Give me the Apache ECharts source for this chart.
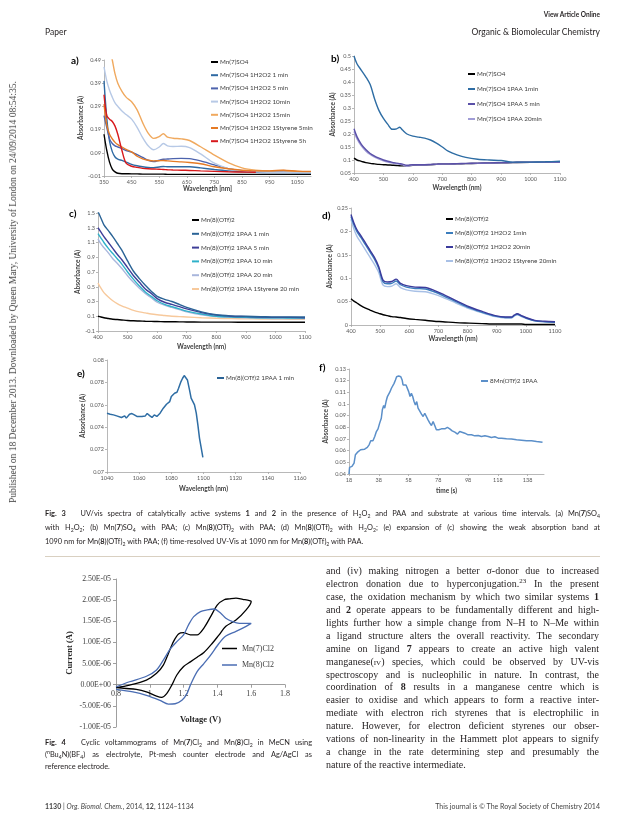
<!DOCTYPE html>
<html>
<head>
<meta charset="utf-8">
<script src="https://cdn.jsdelivr.net/npm/echarts@6/dist/echarts.min.js"></script>
<style>
  html, body { margin: 0; padding: 0; background: #fff; }
  #page { position: relative; width: 638px; height: 835px; overflow: hidden; background: #fff; }
  #chart { position: absolute; left: 0; top: 0; width: 638px; height: 835px; }
  .t { position: absolute; color: #231f20; }
  .sans { font-family: Lato, "Open Sans", sans-serif; }
  .serif { font-family: "Liberation Serif", "DejaVu Serif", serif; }
  .jl { text-align: justify; text-align-last: justify; }
  sub, sup { font-size: 70%; line-height: 0; }
</style>
</head>
<body>
<div id="page">
  <div id="chart"></div>

  <div class="t sans" style="right:38px; top:11px; font-size:6.5px; font-weight:700;">View Article Online</div>
  <div class="t sans" style="left:45px; top:27px; font-size:8.5px;">Paper</div>
  <div class="t sans" style="right:38px; top:27px; font-size:8.5px;">Organic &amp; Biomolecular Chemistry</div>

  <div class="t serif" style="left:13px; top:292px; font-size:9.5px; font-weight:400; color:#444; white-space:nowrap; transform:translate(-50%,-50%) rotate(-90deg);">Published on 18 December 2013. Downloaded by Queen Mary, University of London on 24/09/2014 08:54:35.</div>

  <div class="t sans" style="left:45px; top:507px; width:555px; font-size:7.4px; line-height:13.8px;">
    <div class="jl"><b>Fig. 3</b>&nbsp;&nbsp; UV/vis spectra of catalytically active systems <b>1</b> and <b>2</b> in the presence of H<sub>2</sub>O<sub>2</sub> and PAA and substrate at various time intervals. (a) Mn(<b>7</b>)SO<sub>4</sub></div>
    <div class="jl">with H<sub>2</sub>O<sub>2</sub>; (b) Mn(<b>7</b>)SO<sub>4</sub> with PAA; (c) Mn(<b>8</b>)(OTf)<sub>2</sub> with PAA; (d) Mn(<b>8</b>)(OTf)<sub>2</sub> with H<sub>2</sub>O<sub>2</sub>; (e) expansion of (c) showing the weak absorption band at</div>
    <div>1090 nm for Mn(<b>8</b>)(OTf)<sub>2</sub> with PAA; (f) time-resolved UV-Vis at 1090 nm for Mn(<b>8</b>)(OTf)<sub>2</sub> with PAA.</div>
  </div>
  <div style="position:absolute; left:45px; top:556px; width:555px; height:1px; background:#d9d0c1;"></div>

  <div class="t sans" style="left:45px; top:737px; width:267px; font-size:7.4px; line-height:11.8px;">
    <div class="jl"><b>Fig. 4</b>&nbsp;&nbsp; Cyclic voltammograms of Mn(<b>7</b>)Cl<sub>2</sub> and Mn(<b>8</b>)Cl<sub>2</sub> in MeCN using</div>
    <div class="jl">(<sup>n</sup>Bu<sub>4</sub>N)(BF<sub>4</sub>) as electrolyte, Pt-mesh counter electrode and Ag/AgCl as</div>
    <div>reference electrode.</div>
  </div>

  <div class="t serif" style="left:326px; top:565px; width:273px; font-size:10px; line-height:12.93px;">
    <div class="jl">and (iv) making nitrogen a better σ-donor due to increased</div>
    <div class="jl">electron donation due to hyperconjugation.<sup>23</sup> In the present</div>
    <div class="jl">case, the oxidation mechanism by which two similar systems <b>1</b></div>
    <div class="jl">and <b>2</b> operate appears to be fundamentally different and high-</div>
    <div class="jl">lights further how a simple change from N–H to N–Me within</div>
    <div class="jl">a ligand structure alters the overall reactivity. The secondary</div>
    <div class="jl">amine on ligand <b>7</b> appears to create an active high valent</div>
    <div class="jl">manganese(<span style="font-variant:small-caps">iv</span>) species, which could be observed by UV-vis</div>
    <div class="jl">spectroscopy and is nucleophilic in nature. In contrast, the</div>
    <div class="jl">coordination of <b>8</b> results in a manganese centre which is</div>
    <div class="jl">easier to oxidise and which appears to form a reactive inter-</div>
    <div class="jl">mediate with electron rich styrenes that is electrophilic in</div>
    <div class="jl">nature. However, for electron deficient styrenes our obser-</div>
    <div class="jl">vations of non-linearity in the Hammett plot appears to signify</div>
    <div class="jl">a change in the rate determining step and presumably the</div>
    <div>nature of the reactive intermediate.</div>
  </div>

  <div class="t sans" style="left:45px; top:802px; font-size:7px; color:#444;"><b>1130</b> | <i>Org. Biomol. Chem.</i>, 2014, <b>12</b>, 1124–1134</div>
  <div class="t sans" style="right:38px; top:802px; font-size:7px; color:#444;">This journal is © The Royal Society of Chemistry 2014</div>
</div>

<script>
// ---------------- Panel a: Mn(7)SO4 + H2O2 ----------------
const aNm = [350, 360, 370, 380, 390, 400, 415, 430, 450, 470, 490, 510, 530, 550, 565, 580, 600, 630, 660, 700, 750, 800, 850, 900, 950, 1000, 1050, 1100];
const aNames = ['Mn(7)SO4', 'Mn(7)SO4 1H2O2 1 min', 'Mn(7)SO4 1H2O2 5 min', 'Mn(7)SO4 1H2O2 10min', 'Mn(7)SO4 1H2O2 15min', 'Mn(7)SO4 1H2O2 1Styrene 5min', 'Mn(7)SO4 1H2O2 1Styrene 5h'];
const aBlack = [0.17, 0.10, 0.05, 0.02, 0.008, 0.002, 0.0, 0.0, -0.001, -0.001, -0.002, -0.002, -0.002, -0.002, -0.002, -0.003, -0.003, -0.003, -0.003, -0.003, -0.003, -0.003, -0.003, -0.003, -0.003, -0.003, -0.003, -0.003];
const a1min = [0.40, 0.24, 0.14, 0.095, 0.072, 0.063, 0.057, 0.05, 0.04, 0.034, 0.03, 0.027, 0.026, 0.029, 0.031, 0.03, 0.03, 0.03, 0.03, 0.025, 0.018, 0.012, 0.008, 0.006, 0.005, 0.005, 0.004, 0.004];
const a5min = [0.25, 0.20, 0.15, 0.13, 0.12, 0.115, 0.108, 0.10, 0.093, 0.082, 0.07, 0.058, 0.052, 0.058, 0.062, 0.063, 0.065, 0.066, 0.065, 0.055, 0.038, 0.022, 0.013, 0.009, 0.007, 0.007, 0.006, 0.006];
const a10min = [0.46, 0.40, 0.36, 0.33, 0.305, 0.29, 0.27, 0.255, 0.235, 0.20, 0.155, 0.12, 0.103, 0.115, 0.13, 0.12, 0.117, 0.118, 0.112, 0.085, 0.045, 0.022, 0.012, 0.008, 0.006, 0.006, 0.005, 0.005];
const a15min = [0.75, 0.62, 0.54, 0.49, 0.43, 0.39, 0.355, 0.33, 0.31, 0.275, 0.22, 0.175, 0.152, 0.16, 0.172, 0.158, 0.153, 0.15, 0.143, 0.116, 0.08, 0.048, 0.025, 0.015, 0.012, 0.014, 0.01, 0.009];
const aSty5min = [0.30, 0.21, 0.17, 0.15, 0.135, 0.125, 0.115, 0.105, 0.094, 0.075, 0.064, 0.058, 0.055, 0.056, 0.057, 0.055, 0.053, 0.051, 0.048, 0.043, 0.03, 0.021, 0.015, 0.012, 0.012, 0.015, 0.011, 0.01];
const aSty5h = [0.34, 0.25, 0.235, 0.225, 0.205, 0.17, 0.10, 0.045, 0.032, 0.027, 0.023, 0.021, 0.02, 0.019, 0.018, 0.017, 0.016, 0.015, 0.014, 0.012, 0.01, 0.008, 0.007, 0.006, null, null, null, null];
const aYTicks = [-0.01, 0.09, 0.19, 0.29, 0.39, 0.49];
const aXTicks = [350, 450, 550, 650, 750, 850, 950, 1050];

// ---------------- Panel b: Mn(7)SO4 + PAA ----------------
const bNm = [400, 410, 425, 440, 455, 470, 485, 500, 515, 530, 545, 555, 565, 580, 600, 620, 640, 660, 680, 700, 720, 750, 780, 820, 860, 900, 940, 1000, 1050, 1100];
const bNames = ['Mn(7)SO4', 'Mn(7)SO4 1PAA 1min', 'Mn(7)SO4 1PAA 5 min', 'Mn(7)SO4 1PAA 20min'];
const bBlack = [0.107, 0.10, 0.095, 0.09, 0.087, 0.085, 0.083, 0.082, 0.081, 0.08, 0.079, 0.078, 0.078, 0.077, 0.08, 0.081, 0.081, 0.082, 0.083, 0.084, 0.084, 0.085, 0.086, 0.087, 0.088, 0.089, 0.09, 0.091, 0.091, 0.091];
const b1min = [0.50, 0.47, 0.445, 0.42, 0.39, 0.335, 0.29, 0.26, 0.237, 0.218, 0.22, 0.226, 0.215, 0.20, 0.192, 0.188, 0.184, 0.177, 0.165, 0.15, 0.134, 0.12, 0.11, 0.103, 0.10, 0.098, 0.092, 0.092, 0.093, 0.095];
const b5min = [0.22, 0.19, 0.16, 0.14, 0.125, 0.115, 0.107, 0.10, 0.095, 0.091, 0.088, 0.086, 0.084, 0.08, 0.082, 0.082, 0.082, 0.083, 0.084, 0.085, 0.085, 0.086, 0.087, 0.088, 0.089, 0.09, 0.091, 0.092, 0.092, 0.092];
const b20min = [0.21, 0.182, 0.154, 0.135, 0.121, 0.111, 0.103, 0.097, 0.092, 0.088, 0.085, 0.083, 0.081, 0.076, 0.081, 0.081, 0.081, 0.082, 0.083, 0.084, 0.084, 0.085, 0.086, 0.087, 0.088, 0.089, 0.09, 0.091, 0.091, 0.091];
const bYTicks = [0.05, 0.1, 0.15, 0.2, 0.25, 0.3, 0.35, 0.4, 0.45, 0.5];
const bXTicks = [400, 500, 600, 700, 800, 900, 1000, 1100];

// ---------------- Panel c: Mn(8)(OTf)2 + PAA ----------------
const cNm = [400, 410, 420, 435, 450, 465, 480, 500, 520, 540, 560, 580, 600, 625, 650, 675, 700, 750, 800, 850, 900, 950, 1000, 1050, 1100];
const cNames = ['Mn(8)(OTf)2', 'Mn(8)(OTf)2 1PAA 1 min', 'Mn(8)(OTf)2 1PAA 5 min', 'Mn(8)(OTf)2 1PAA 10 min', 'Mn(8)(OTf)2 1PAA 20 min', 'Mn(8)(OTf)2 1PAA 1Styrene 20 min'];
const cBlack = [0.10, 0.09, 0.08, 0.07, 0.06, 0.055, 0.05, 0.043, 0.038, 0.035, 0.032, 0.03, 0.028, 0.026, 0.025, 0.024, 0.023, 0.021, 0.02, 0.02, 0.019, 0.019, 0.018, 0.018, 0.018];
const c1min = [1.52, 1.43, 1.34, 1.26, 1.18, 1.09, 1.0, 0.85, 0.71, 0.61, 0.52, 0.44, 0.37, 0.33, 0.30, 0.26, 0.22, 0.16, 0.12, 0.105, 0.10, 0.095, 0.09, 0.09, 0.09];
const c5min = [1.30, 1.24, 1.18, 1.10, 1.02, 0.94, 0.87, 0.76, 0.65, 0.56, 0.47, 0.41, 0.34, 0.29, 0.26, 0.23, 0.20, 0.15, 0.115, 0.10, 0.095, 0.09, 0.085, 0.085, 0.08];
const c10min = [1.22, 1.16, 1.10, 1.02, 0.95, 0.88, 0.81, 0.70, 0.60, 0.51, 0.43, 0.37, 0.31, 0.26, 0.23, 0.20, 0.17, 0.13, 0.10, 0.09, 0.085, 0.08, 0.08, 0.075, 0.075];
const c20min = [1.15, 1.08, 1.03, 0.96, 0.88, 0.82, 0.75, 0.65, 0.56, 0.48, 0.41, 0.35, 0.29, 0.25, 0.22, 0.19, 0.16, 0.12, 0.095, 0.085, 0.08, 0.075, 0.07, 0.07, 0.07];
const cSty = [0.55, 0.48, 0.42, 0.36, 0.31, 0.27, 0.24, 0.21, 0.18, 0.16, 0.145, 0.13, 0.12, 0.11, 0.10, 0.095, 0.09, 0.08, 0.072, 0.068, 0.065, 0.063, 0.062, 0.06, 0.06];
const cYTicks = [-0.1, 0.1, 0.3, 0.5, 0.7, 0.9, 1.1, 1.3, 1.5];
const cXTicks = [400, 500, 600, 700, 800, 900, 1000, 1100];

// ---------------- Panel d: Mn(8)(OTf)2 + H2O2 ----------------
const dNm = [400, 410, 420, 435, 450, 465, 480, 495, 510, 525, 540, 555, 570, 590, 620, 655, 685, 715, 760, 805, 850, 895, 930, 950, 960, 970, 985, 1000, 1030, 1065, 1100];
const dNames = ['Mn(8)(OTf)2', 'Mn(8)(OTf)2 1H2O2 1min', 'Mn(8)(OTf)2 1H2O2 20min', 'Mn(8)(OTf)2 1H2O2 1Styrene 20min'];
const dBlack = [0.056, 0.051, 0.047, 0.041, 0.036, 0.032, 0.028, 0.025, 0.022, 0.02, 0.018, 0.017, 0.016, 0.014, 0.012, 0.01, 0.008, 0.007, 0.005, 0.004, 0.003, 0.002, 0.002, 0.002, 0.002, 0.002, 0.002, 0.001, 0.001, 0.001, 0.001];
const d1min = [0.232, 0.214, 0.20, 0.186, 0.171, 0.156, 0.141, 0.121, 0.092, 0.088, 0.089, 0.094, 0.086, 0.081, 0.078, 0.077, 0.071, 0.063, 0.05, 0.037, 0.027, 0.019, 0.016, 0.016, 0.02, 0.023, 0.019, 0.015, 0.009, 0.007, 0.006];
const d20min = [0.236, 0.218, 0.204, 0.19, 0.175, 0.16, 0.145, 0.125, 0.096, 0.092, 0.093, 0.098, 0.089, 0.084, 0.081, 0.08, 0.074, 0.066, 0.052, 0.039, 0.029, 0.02, 0.017, 0.017, 0.021, 0.024, 0.02, 0.016, 0.01, 0.008, 0.007];
const dSty = [0.226, 0.205, 0.19, 0.175, 0.16, 0.145, 0.13, 0.112, 0.085, 0.082, 0.083, 0.088, 0.08, 0.075, 0.072, 0.071, 0.066, 0.059, 0.047, 0.035, 0.026, 0.018, 0.015, 0.015, 0.019, 0.022, 0.018, 0.014, 0.009, 0.007, 0.006];
const dYTicks = [0, 0.05, 0.1, 0.15, 0.2, 0.25];
const dXTicks = [400, 500, 600, 700, 800, 900, 1000, 1100];

// ---------------- Panel e: expansion near 1090 nm ----------------
const eName = 'Mn(8)(OTf)2 1PAA 1 min';
const eNm = [1040, 1042, 1044, 1046, 1047, 1049, 1051, 1052, 1054, 1055.5, 1057, 1058.6, 1061.7, 1063.8, 1065, 1066.5, 1068, 1069.4, 1071, 1073, 1075, 1077, 1079, 1080, 1081, 1082, 1083.5, 1084.5, 1085.5, 1086, 1087, 1088, 1089, 1090, 1091.3, 1092.3, 1093.4, 1094.4, 1095.5, 1096.5, 1097.5, 1098.6, 1099.6];
const eAbs = [0.07525, 0.07516, 0.0751, 0.07501, 0.0751, 0.07487, 0.07501, 0.07481, 0.07516, 0.07522, 0.0751, 0.07496, 0.07496, 0.07501, 0.07522, 0.07504, 0.07487, 0.0751, 0.07496, 0.07525, 0.0757, 0.07605, 0.07629, 0.07674, 0.07659, 0.07703, 0.07712, 0.07748, 0.07763, 0.07807, 0.07837, 0.07861, 0.07866, 0.07822, 0.07733, 0.07659, 0.07629, 0.07599, 0.07525, 0.07421, 0.07303, 0.07214, 0.07131];
const eYTicks = [0.07, 0.072, 0.074, 0.076, 0.078, 0.08];
const eXTicks = [1040, 1060, 1080, 1100, 1120, 1140, 1160];

// ---------------- Panel f: time-resolved at 1090 nm ----------------
const fName = '8Mn(OTf)2 1PAA';
const fTime = [18, 18.4, 20, 21.4, 22.3, 23.6, 25.8, 28.5, 30.3, 31.5, 32.6, 34.1, 35.3, 36.4, 37.5, 38.6, 39.7, 40.4, 41.3, 42, 42.9, 43.8, 44.7, 45.4, 46.5, 47.4, 48.3, 49.2, 50, 51.4, 52.8, 53.7, 54.3, 55.4, 56.3, 57.2, 58.1, 59, 59.9, 60.8, 61.7, 62.6, 63.5, 64.4, 65.5, 66.7, 67.8, 68.9, 70, 71.1, 72.3, 73.4, 74.5, 75.6, 76.7, 78.3, 80.1, 82.4, 84.1, 85.7, 87.3, 89.1, 90.9, 92.4, 93.6, 95.8, 98, 100.3, 102.5, 104.8, 107, 109.3, 111.5, 113.7, 116, 118.2, 120.5, 123.8, 127.2, 130.6, 133.9, 137.3, 140.6, 144, 148];
const fAbs = [0.0400, 0.0457, 0.0465, 0.0494, 0.0565, 0.0585, 0.0608, 0.0613, 0.0628, 0.0650, 0.0685, 0.0685, 0.0722, 0.0764, 0.0787, 0.0836, 0.0878, 0.0950, 0.0987, 0.0964, 0.1021, 0.1064, 0.1049, 0.1101, 0.1135, 0.1129, 0.1177, 0.1206, 0.1234, 0.1240, 0.1234, 0.1206, 0.1163, 0.1177, 0.1163, 0.1149, 0.1106, 0.1064, 0.1092, 0.1064, 0.1021, 0.0992, 0.1021, 0.0964, 0.0955, 0.0913, 0.0893, 0.0921, 0.0907, 0.0864, 0.0836, 0.0816, 0.0850, 0.0816, 0.0779, 0.0779, 0.0787, 0.0787, 0.0799, 0.0787, 0.0770, 0.0759, 0.0742, 0.0764, 0.0759, 0.0750, 0.0736, 0.0736, 0.0727, 0.0730, 0.0722, 0.0727, 0.0722, 0.0713, 0.0719, 0.0707, 0.0707, 0.0702, 0.0699, 0.0693, 0.0690, 0.0685, 0.0685, 0.0679, 0.0673];
const fYTicks = [0.04, 0.05, 0.06, 0.07, 0.08, 0.09, 0.1, 0.11, 0.12, 0.13];
const fXTicks = [18, 38, 58, 78, 98, 118, 138];

// ---------------- Fig. 4: cyclic voltammograms ----------------
const cvNames = ['Mn(7)Cl2', 'Mn(8)Cl2'];
const cv7V = [0.80, 0.88, 0.98, 1.04, 1.08, 1.11, 1.14, 1.17, 1.20, 1.24, 1.28, 1.32, 1.36, 1.40, 1.44, 1.47, 1.51, 1.55, 1.59, 1.60, 1.57, 1.51, 1.45, 1.41, 1.37, 1.32, 1.28, 1.24, 1.20, 1.16, 1.13, 1.10, 1.07, 1.04, 0.98, 0.92, 0.86, 0.80];
const cv7I = [-0.7e-6, -0.1e-6, 1.1e-6, 2.7e-6, 4.65e-6, 7.4e-6, 10.2e-6, 12.0e-6, 12.3e-6, 11.8e-6, 11.8e-6, 13.4e-6, 16.1e-6, 18.9e-6, 20.1e-6, 20.3e-6, 20.5e-6, 20.2e-6, 19.9e-6, 19.7e-6, 17.7e-6, 15.3e-6, 13.8e-6, 11.8e-6, 9.8e-6, 7.6e-6, 6.5e-6, 5.4e-6, 4.3e-6, 2.3e-6, -0.1e-6, -2.1e-6, -3.0e-6, -2.7e-6, -1.7e-6, -1.1e-6, -0.9e-6, -0.7e-6];
const cv8V = [0.80, 0.88, 0.98, 1.04, 1.08, 1.12, 1.16, 1.20, 1.23, 1.26, 1.30, 1.34, 1.38, 1.42, 1.45, 1.49, 1.53, 1.60, 1.57, 1.51, 1.45, 1.41, 1.36, 1.32, 1.28, 1.24, 1.22, 1.19, 1.15, 1.11, 1.06, 0.98, 0.90, 0.80];
const cv8I = [-0.5e-6, 0.7e-6, 2.0e-6, 3.5e-6, 5.8e-6, 8.4e-6, 10.2e-6, 11.8e-6, 14.2e-6, 16.1e-6, 17.3e-6, 17.7e-6, 17.9e-6, 16.9e-6, 15.7e-6, 14.9e-6, 14.5e-6, 14.5e-6, 13.8e-6, 12.6e-6, 11.5e-6, 9.8e-6, 7.0e-6, 5.0e-6, 3.1e-6, -0.1e-6, -2.1e-6, -3.7e-6, -4.5e-6, -4.6e-6, -3.7e-6, -2.5e-6, -1.7e-6, -1.1e-6];
const cvYTicks = [-1e-5, -5e-6, 0, 5e-6, 1e-5, 1.5e-5, 2e-5, 2.5e-5];
const cvYLabels = ['-1.00E-05', '-5.00E-06', '0.00E+00', '5.00E-06', '1.00E-05', '1.50E-05', '2.00E-05', '2.50E-05'];
const cvXTicks = [0.8, 1.0, 1.2, 1.4, 1.6, 1.8];

// ---------------- styling / assembly ----------------
const SANS = 'Lato';
const SERIF = 'Liberation Serif';
const AXC = '#a6a6a6';
const LBL = '#595959';

function pairs(xs, ys) { return xs.map((x, i) => [x, ys[i]]); }
function plain(v) { return String(v); }

function xAx(gi, min, max, ticks, name, gap) {
  return {
    type: 'value', gridIndex: gi, min: min, max: max, splitLine: { show: false },
    axisLine: { onZero: false, lineStyle: { color: AXC, width: 0.8 } },
    axisTick: { show: true, length: 2, lineStyle: { color: AXC, width: 0.8 }, customValues: ticks },
    axisLabel: { customValues: ticks, formatter: plain, fontSize: 5.5, color: LBL, fontFamily: SANS, margin: 3 },
    name: name, nameLocation: 'middle', nameGap: gap,
    nameTextStyle: { fontSize: 6.5, fontWeight: 'bold', color: '#404040', fontFamily: SANS }
  };
}
function yAx(gi, min, max, ticks, gap) {
  return {
    type: 'value', gridIndex: gi, min: min, max: max, splitLine: { show: false },
    axisLine: { show: true, onZero: false, lineStyle: { color: AXC, width: 0.8 } },
    axisTick: { show: true, length: 2, lineStyle: { color: AXC, width: 0.8 }, customValues: ticks },
    axisLabel: { customValues: ticks, formatter: plain, fontSize: 5.5, color: LBL, fontFamily: SANS, margin: 3 },
    name: 'Absorbance (A)', nameLocation: 'middle', nameGap: gap, nameRotate: 90,
    nameTextStyle: { fontSize: 6.5, fontWeight: 'bold', color: '#404040', fontFamily: SANS }
  };
}
function ln(gi, name, xs, ys, color, w) {
  return {
    type: 'line', name: name, xAxisIndex: gi, yAxisIndex: gi, data: pairs(xs, ys),
    showSymbol: false, symbol: 'none', smooth: 0.3, connectNulls: false,
    lineStyle: { color: color, width: w || 1.4 }, itemStyle: { color: color },
    animation: false, silent: true
  };
}
function lg(names, left, top, gap) {
  return {
    data: names, left: left, top: top, orient: 'vertical', padding: 0, itemGap: gap,
    icon: 'rect', itemWidth: 7, itemHeight: 2, selectedMode: false,
    textStyle: { fontSize: 6.3, color: '#404040', fontFamily: SANS, lineHeight: 8, padding: [0, 0, 0, -3] }
  };
}
function lbl(text, x, y) {
  return { type: 'text', left: x, top: y, style: { text: text, font: 'bold 10px Lato', fill: '#000' } };
}

const grids = [
  { left: 104, top: 60, width: 207, height: 116 },
  { left: 354, top: 56, width: 206, height: 117 },
  { left: 98, top: 213, width: 207, height: 118 },
  { left: 351, top: 208, width: 204, height: 117 },
  { left: 107, top: 360, width: 193, height: 112 },
  { left: 349, top: 369, width: 195, height: 105 },
  { left: 116, top: 579, width: 169, height: 148 }
];
// pixel distance from the CV plot bottom (-1e-5) up to the zero-current line
const cvZeroOffset = -grids[6].height * (0 - (-1e-5)) / (2.5e-5 - (-1e-5));

const option = {
  animation: false,
  grid: grids,
  xAxis: [
    xAx(0, 350, 1100, aXTicks, 'Wavelength [nm]', 9),
    xAx(1, 400, 1100, bXTicks, 'Wavelength (nm)', 11),
    xAx(2, 400, 1100, cXTicks, 'Wavelength (nm)', 12),
    xAx(3, 400, 1100, dXTicks, 'Wavelength (nm)', 10),
    xAx(4, 1040, 1160, eXTicks, 'Wavelength (nm)', 13),
    xAx(5, 18, 149, fXTicks, 'time (s)', 13),
    {
      type: 'value', gridIndex: 6, min: 0.8, max: 1.8, splitLine: { show: false },
      position: 'bottom', offset: cvZeroOffset,
      axisLine: { onZero: false, lineStyle: { color: '#868686', width: 0.8 } },
      axisTick: { show: true, length: 3, lineStyle: { color: '#868686', width: 0.8 }, customValues: cvXTicks },
      axisLabel: { customValues: cvXTicks, formatter: plain, fontSize: 8, color: '#404040', fontFamily: SERIF, margin: 5 },
      name: 'Voltage (V)', nameLocation: 'middle', nameGap: 31,
      nameTextStyle: { fontSize: 8.5, fontWeight: 'bold', color: '#262626', fontFamily: SERIF }
    }
  ],
  yAxis: [
    yAx(0, -0.01, 0.49, aYTicks, 17),
    yAx(1, 0.05, 0.5, bYTicks, 18),
    yAx(2, -0.1, 1.5, cYTicks, 17),
    yAx(3, 0, 0.25, dYTicks, 17),
    yAx(4, 0.07, 0.08, eYTicks, 21),
    yAx(5, 0.04, 0.13, fYTicks, 20),
    {
      type: 'value', gridIndex: 6, min: -1e-5, max: 2.5e-5, splitLine: { show: false },
      axisLine: { show: true, onZero: false, lineStyle: { color: '#868686', width: 0.8 } },
      axisTick: { show: true, length: 3, lineStyle: { color: '#868686', width: 0.8 }, customValues: cvYTicks },
      axisLabel: {
        customValues: cvYTicks, fontSize: 7.8, color: '#404040', fontFamily: SERIF, margin: 5,
        formatter: function (v) { let k = 0, best = 1; cvYTicks.forEach((t, i) => { const d = Math.abs(t - v); if (d < best) { best = d; k = i; } }); return cvYLabels[k]; }
      },
      name: 'Current (A)', nameLocation: 'middle', nameGap: 42, nameRotate: 90,
      nameTextStyle: { fontSize: 8.5, fontWeight: 'bold', color: '#262626', fontFamily: SERIF }
    }
  ],
  legend: [
    lg(aNames, 211, 58, 5.2),
    lg(bNames, 468, 70, 7),
    lg(cNames, 192, 216, 5.8),
    lg(dNames, 446, 215, 6),
    lg([eName], 217, 374, 5),
    lg([fName], 481, 377, 5),
    {
      data: cvNames, left: 222, top: 644, orient: 'vertical', padding: 0, itemGap: 7.5,
      icon: 'rect', itemWidth: 15, itemHeight: 1.5, selectedMode: false,
      textStyle: { fontSize: 8, color: '#404040', fontFamily: SERIF, lineHeight: 9 }
    }
  ],
  graphic: [
    lbl('a)', 71, 56), lbl('b)', 331, 54), lbl('c)', 69, 209), lbl('d)', 322, 211), lbl('e)', 77, 369), lbl('f)', 319, 363)
  ],
  series: [
    ln(0, aNames[0], aNm, aBlack, '#000000'),
    ln(0, aNames[1], aNm, a1min, '#2f6aa3'),
    ln(0, aNames[2], aNm, a5min, '#4d63ad'),
    ln(0, aNames[3], aNm, a10min, '#b7c9e6'),
    ln(0, aNames[4], aNm, a15min, '#f0a95e'),
    ln(0, aNames[5], aNm, aSty5min, '#e57a24'),
    ln(0, aNames[6], aNm, aSty5h, '#d7191c'),

    ln(1, bNames[0], bNm, bBlack, '#000000'),
    ln(1, bNames[3], bNm, b20min, '#a09cd6'),
    ln(1, bNames[2], bNm, b5min, '#5a50a8'),
    ln(1, bNames[1], bNm, b1min, '#2e6da4'),

    ln(2, cNames[0], cNm, cBlack, '#000000'),
    ln(2, cNames[5], cNm, cSty, '#f7c99c'),
    ln(2, cNames[4], cNm, c20min, '#a9b6dc'),
    ln(2, cNames[3], cNm, c10min, '#2fb1c9'),
    ln(2, cNames[2], cNm, c5min, '#3e3e98'),
    ln(2, cNames[1], cNm, c1min, '#2a6396'),

    ln(3, dNames[0], dNm, dBlack, '#000000'),
    ln(3, dNames[3], dNm, dSty, '#a8c0e6'),
    ln(3, dNames[1], dNm, d1min, '#3b7dbd'),
    ln(3, dNames[2], dNm, d20min, '#3b3b9c'),

    Object.assign(ln(4, eName, eNm, eAbs, '#2e6da4', 1.5), { smooth: false }),
    Object.assign(ln(5, fName, fTime, fAbs, '#5b8fc9', 1.5), { smooth: false }),

    ln(6, cvNames[0], cv7V, cv7I, '#000000', 1.3),
    ln(6, cvNames[1], cv8V, cv8I, '#4a6db3', 1.3)
  ]
};

const chart = echarts.init(document.getElementById('chart'), null, { renderer: 'canvas' });
chart.setOption(option);
</script>
</body>
</html>
